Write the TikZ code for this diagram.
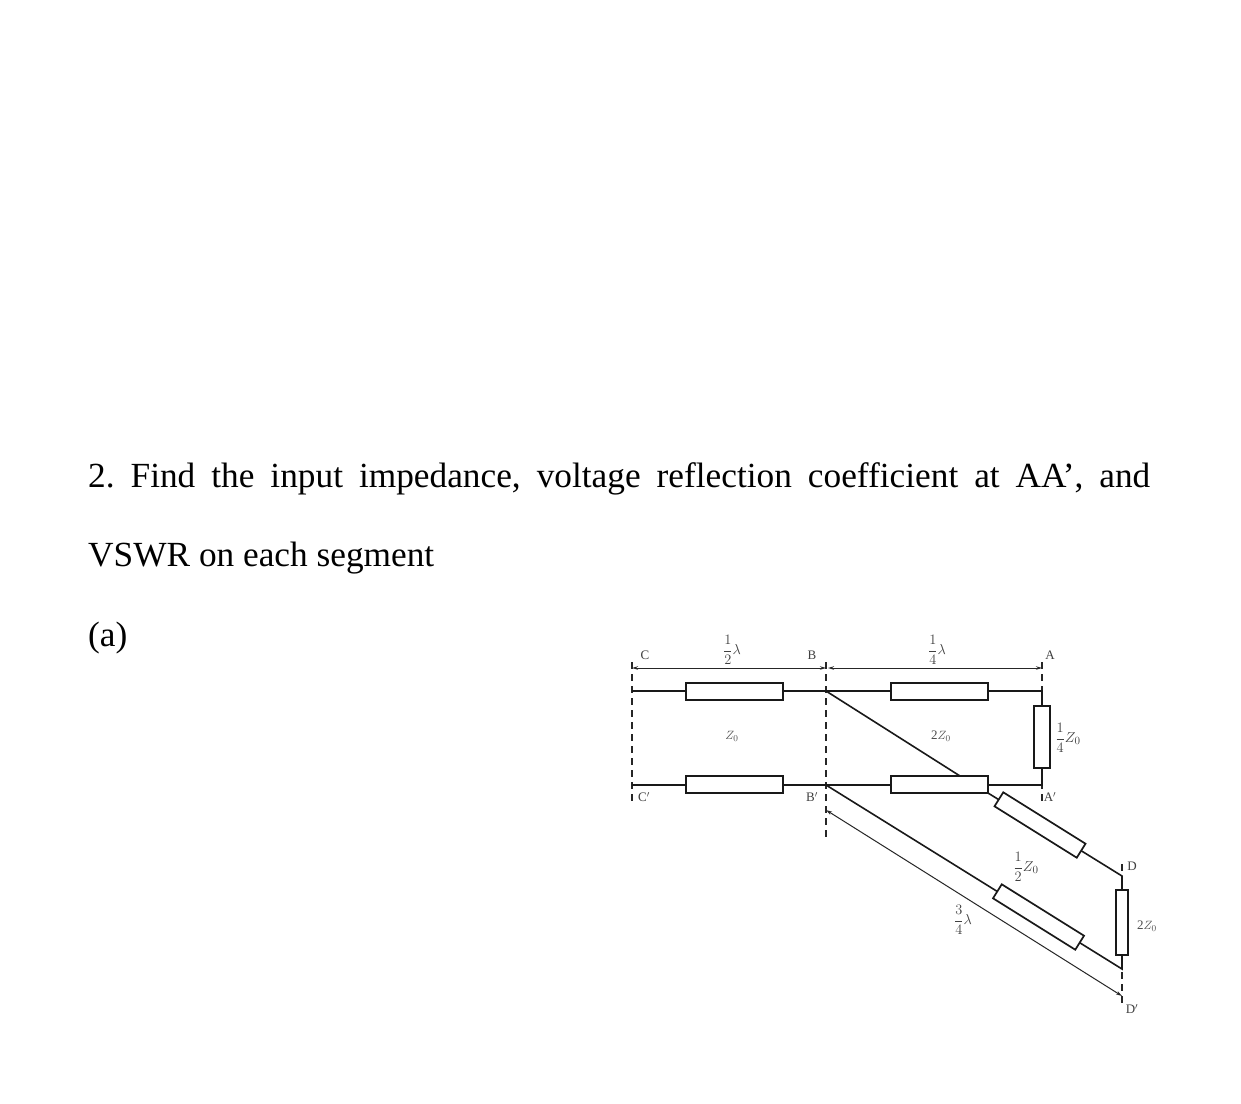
\documentclass[tikz,border=0pt]{standalone}
\usepackage{fontspec}
\setmainfont{Liberation Serif}
\usetikzlibrary{arrows.meta}
\frenchspacing
\tikzset{
  wire/.style={draw=black!90,line width=1.6pt},
  res/.style={draw=black!90,line width=1.7pt,fill=white,minimum width=97pt,minimum height=16.5pt,inner sep=0pt,outer sep=0pt},
  resv/.style={draw=black!90,line width=1.7pt,fill=white,inner sep=0pt,outer sep=0pt},
  guide/.style={draw=black!85,line width=1.3pt,dash pattern=on 7pt off 5pt},
  dim/.style={draw=black!85,line width=1pt,{Stealth[length=6pt,width=3.5pt]}-{Stealth[length=6pt,width=3.5pt]}},
  lab/.style={inner sep=0pt,text=black!75,font=\fontsize{13}{13}\selectfont},
  frac/.style={inner sep=0pt,text=black!75,font=\fontsize{15}{15}\selectfont},
  imp/.style={inner sep=0pt,text=black!70,font=\fontsize{13}{13}\selectfont},
  body/.style={inner sep=0pt,anchor=base west,text=black,font=\fontsize{35.3}{35.3}\selectfont}
}
\begin{document}
\begin{tikzpicture}[x=1pt,y=-1pt]
\useasboundingbox (0,0) rectangle (1241,1103);
\fill[white] (0,0) rectangle (1241,1103);
\node[body] (line1) at (88,487) {\makebox[1062pt][s]{2. Find the input impedance, voltage reflection coefficient at AA’, and}};
\node[body] (line2) at (88,566) {VSWR on each segment};
\node[body] (part) at (88,646) {(a)};
% junction coordinates
\coordinate (Ctop) at (632,691);
\coordinate (Cbot) at (632,785);
\coordinate (Btop) at (826,691);
\coordinate (Bbot) at (826,785);
\coordinate (Atop) at (1042,691);
\coordinate (Abot) at (1042,785);
\coordinate (Dtop) at (1122,876);
\coordinate (Dbot) at (1122,969);
\coordinate (stubin) at (960,776);
\coordinate (lineout) at (988,793);
% guides
\coordinate (Cg1) at (632,662);
\coordinate (Cg2) at (632,805);
\coordinate (Bg1) at (826,662);
\coordinate (Bg2) at (826,838);
\coordinate (Ag1) at (1042,662);
\coordinate (Ag2) at (1042,805);
\coordinate (Dg1) at (1122,864);
\coordinate (Dg2) at (1122,1003);
\coordinate (dimC) at (632,668);
\coordinate (dimB) at (826,668);
\coordinate (dimB2) at (828,668);
\coordinate (dimA) at (1042,668);
\coordinate (dimBd) at (826,810);
\coordinate (dimDd) at (1122,996);
\draw[guide] (Cg1) -- (Cg2);
\draw[guide] (Bg1) -- (Bg2);
\draw[guide] (Ag1) -- (Ag2);
\draw[guide] (Dg1) -- (Dg2);
\draw[dim] (dimC) -- (dimB);
\draw[dim] (dimB2) -- (dimA);
\draw[dim] (dimBd) -- (dimDd);
% wires
\draw[wire] (Ctop) -- (Atop) -- (Abot) -- (Cbot);
\draw[wire] (Btop) -- (stubin);
\draw[wire] (Bbot) -- (Dbot) -- (Dtop) -- (lineout);
% resistors
\node[res] (r1) at (734.5,691.5) {};
\node[res] (r2) at (734.5,784.5) {};
\node[res] (r3) at (939.5,691.5) {};
\node[res] (r4) at (939.5,784.5) {};
\node[resv,minimum width=16pt,minimum height=62pt] (r5) at (1042,737) {};
\node[resv,minimum width=12pt,minimum height=65pt] (r6) at (1122,922.5) {};
\node[res,rotate=-32] (r7) at (1040,825) {};
\node[res,rotate=-32] (r8) at (1038.5,917) {};
% labels
\node[lab] (lC) at (645,655) {C};
\node[lab] (lCp) at (644,797) {C$'$};
\node[lab] (lB) at (812,655) {B};
\node[lab] (lBp) at (812,797) {B$'$};
\node[lab] (lA) at (1050,655) {A};
\node[lab] (lAp) at (1050,797) {A$'$};
\node[lab] (lD) at (1132,866) {D};
\node[lab] (lDp) at (1132,1009) {D$'$};
\node[frac] (f1) at (732,650) {$\displaystyle\frac{1}{2}\lambda$};
\node[frac] (f2) at (937,650) {$\displaystyle\frac{1}{4}\lambda$};
\node[frac] (f3) at (1068,738) {$\displaystyle\frac{1}{4}Z_0$};
\node[frac] (f4) at (1026,867) {$\displaystyle\frac{1}{2}Z_0$};
\node[frac] (f5) at (963,920) {$\displaystyle\frac{3}{4}\lambda$};
\node[imp] (z1) at (732,736) {$Z_0$};
\node[imp] (z2) at (941,736) {2$Z_0$};
\node[imp] (z3) at (1147,926) {2$Z_0$};
\end{tikzpicture}
\end{document}
